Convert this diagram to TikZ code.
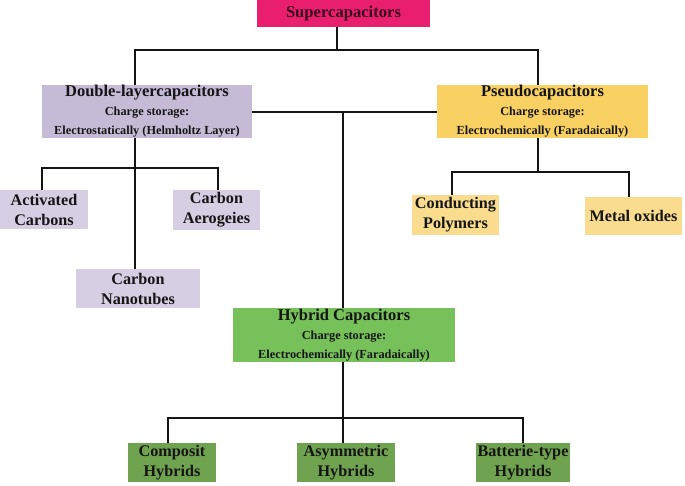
\documentclass[tikz,border=0pt]{standalone}
\usepackage{fontspec}
\setmainfont{Liberation Serif}
\definecolor{supc}{HTML}{EA1E6E}
\definecolor{dlc}{HTML}{C6BBD7}
\definecolor{dlch}{HTML}{D6CEE3}
\definecolor{psc}{HTML}{F9D163}
\definecolor{psch}{HTML}{F9DC8E}
\definecolor{hyc}{HTML}{77C15A}
\definecolor{hych}{HTML}{70A34F}
\definecolor{txt}{HTML}{151515}
\definecolor{suptxt}{HTML}{3A0A1E}
\tikzset{
  box/.style={inner sep=0pt, align=center, text=txt, font=\bfseries\fontsize{16.2}{20}\selectfont},
  bigbox/.style={box, font=\bfseries\fontsize{12.3}{19}\selectfont},
  conn/.style={draw=black!92, line width=2.2pt}
}
\newcommand{\ttl}[1]{{\fontsize{16.5}{19}\selectfont #1}}
\begin{document}
\begin{tikzpicture}[x=1pt,y=-1pt]
\useasboundingbox (0,0) rectangle (685,485);
\fill[white] (0,0) rectangle (685,485);
% nodes
\node[box, fill=supc, text=suptxt, minimum width=173pt, minimum height=27pt] (sup) at (343.5,13.5) {\fontsize{16.6}{18}\selectfont Supercapacitors};
\node[bigbox, fill=dlc, minimum width=210pt, minimum height=53pt] (dl) at (147,111.5) {\ttl{Double-layercapacitors}\\Charge storage:\\Electrostatically (Helmholtz Layer)};
\node[bigbox, fill=psc, minimum width=211pt, minimum height=53pt] (ps) at (542.5,111.5) {\ttl{Pseudocapacitors}\\Charge storage:\\Electrochemically (Faradaically)};
\node[bigbox, fill=hyc, minimum width=222pt, minimum height=54pt] (hy) at (344,335) {\ttl{Hybrid Capacitors}\\Charge storage:\\Electrochemically (Faradaically)};
\node[box, fill=dlch, minimum width=88pt, minimum height=39pt] (ac) at (44,209.5) {Activated\\Carbons};
\node[box, fill=dlch, minimum width=87pt, minimum height=40pt] (ca) at (216.5,210) {Carbon\\Aerogeies};
\node[box, fill=dlch, minimum width=124pt, minimum height=39pt] (cn) at (138,288.5) {Carbon\\Nanotubes};
\node[box, fill=psch, minimum width=87pt, minimum height=40pt] (cp) at (455.5,215) {Conducting\\Polymers};
\node[box, fill=psch, minimum width=97pt, minimum height=38pt] (mo) at (633.5,216) {Metal oxides};
\node[box, fill=hych, minimum width=88pt, minimum height=39pt] (co) at (172,462.5) {Composit\\Hybrids};
\node[box, fill=hych, minimum width=98pt, minimum height=39pt] (as) at (346,462.5) {Asymmetric\\Hybrids};
\node[box, fill=hych, minimum width=94pt, minimum height=39pt] (bt) at (523,462.5) {Batterie-type\\Hybrids};
% junctions
\coordinate (j1) at (337,50);
\coordinate (jdl) at (135,50);
\coordinate (jps) at (538,50);
\coordinate (jmid) at (343,112);
\coordinate (d1) at (135,168);
\coordinate (d1l) at (42,168);
\coordinate (d1r) at (218,168);
\coordinate (p1) at (538,172);
\coordinate (p1l) at (452,172);
\coordinate (p1r) at (629,172);
\coordinate (h1) at (343,418);
\coordinate (h1l) at (168,418);
\coordinate (h1r) at (523,418);
% connectors
\draw[conn] (sup.south -| j1) -- (j1);
\draw[conn] (dl.north -| jdl) -- (jdl) -- (jps) -- (ps.north -| jps);
\draw[conn] (dl.east |- jmid) -- (ps.west |- jmid);
\draw[conn] (jmid) -- (hy.north -| jmid);
\draw[conn] (dl.south -| d1) -- (d1);
\draw[conn] (ac.north -| d1l) -- (d1l) -- (d1r) -- (ca.north -| d1r);
\draw[conn] (d1) -- (cn.north -| d1);
\draw[conn] (ps.south -| p1) -- (p1);
\draw[conn] (cp.north -| p1l) -- (p1l) -- (p1r) -- (mo.north -| p1r);
\draw[conn] (hy.south -| h1) -- (h1);
\draw[conn] (co.north -| h1l) -- (h1l) -- (h1r) -- (bt.north -| h1r);
\draw[conn] (h1) -- (as.north -| h1);
\end{tikzpicture}
\end{document}
